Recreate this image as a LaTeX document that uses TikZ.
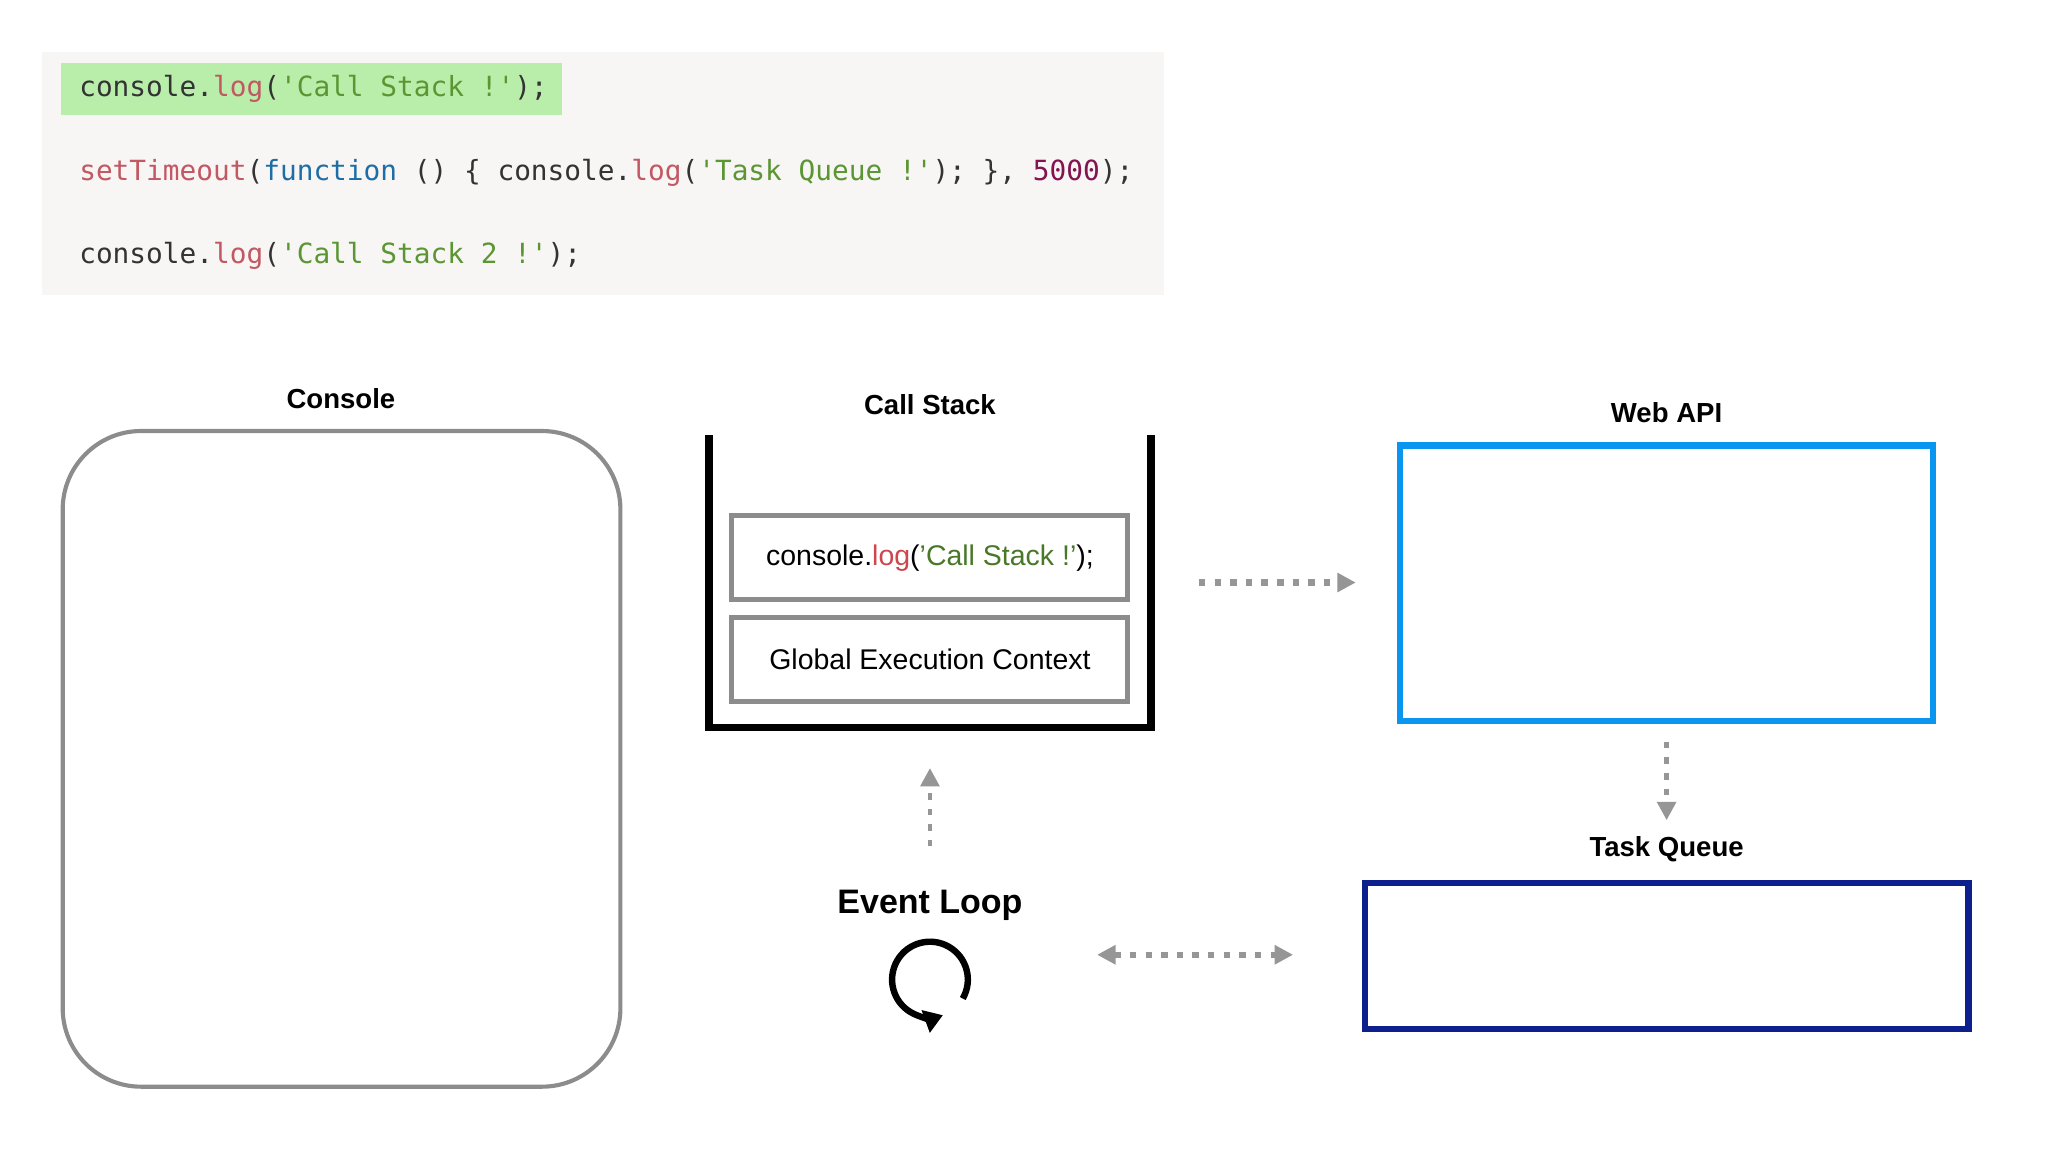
\documentclass[tikz,border=0pt]{standalone}
\usepackage{fontspec}
\setmainfont{Liberation Sans}
\newfontfamily\codefont{DejaVu Sans Mono}
\usetikzlibrary{arrows.meta, positioning}
\definecolor{codebg}{RGB}{248, 245, 245}
\definecolor{hilite}{RGB}{184, 238, 170}
\definecolor{cdark}{RGB}{51, 51, 51}
\definecolor{cfun}{RGB}{193, 88, 98}
\definecolor{cstr}{RGB}{90, 150, 50}
\definecolor{ckey}{RGB}{30, 110, 165}
\definecolor{cnum}{RGB}{130, 20, 80}
\definecolor{boxgray}{RGB}{140, 140, 140}
\definecolor{webblue}{RGB}{10, 150, 240}
\definecolor{navy}{RGB}{13, 31, 140}
\definecolor{dots}{RGB}{150, 150, 150}

\begin{document}
\begin{tikzpicture}[
    x=0.01cm, y=-0.01cm,
    code/.style={anchor=west, inner sep=0, font=\codefont\fontsize{6.05}{7}\selectfont, text=cdark},
    title/.style={font=\bfseries\fontsize{6}{7}\selectfont},
    frame/.style={
        rectangle, draw=boxgray, line width=1.1pt,
        minimum width=3.03cm, minimum height=0.64cm,
        font=\fontsize{6.2}{7}\selectfont
    },
    flow/.style={dots, line width=1.4pt, dotted, -{Triangle[length=4pt, width=4pt]}}
]
    \useasboundingbox (0,0) rectangle (1568,882);
    \fill[white] (0,0) rectangle (1568,882);

    % code sample
    \fill[codebg] (32,40) rectangle (891,226);
    \fill[hilite] (47,48) rectangle (430,88);
    \node[code] (line1) at (60,68) {console.\textcolor{cfun}{log}(\textcolor{cstr}{'Call Stack !'});};
    \node[code] (line2) at (60,132) {\textcolor{cfun}{setTimeout}(\textcolor{ckey}{function} () \{ console.\textcolor{cfun}{log}(\textcolor{cstr}{'Task Queue !'}); \}, \textcolor{cnum}{5000});};
    \node[code] (line3) at (60,196) {console.\textcolor{cfun}{log}(\textcolor{cstr}{'Call Stack 2 !'});};

    % console
    \node[title] (conTitle) at (261,305) {Console};
    \draw[boxgray, line width=0.9pt, rounded corners=0.6cm] (48,330) rectangle (475,832);

    % call stack
    \node[title] (csTitle) at (712,310) {Call Stack};
    \draw[black, line width=1.7pt] (543,333) -- (543,557) -- (881,557) -- (881,333);
    \node[frame] (frameLog) at (712,427) {console.\textcolor{cfun!80!red}{log}(\textcolor{cstr!80!black}{'Call Stack !'});};
    \node[frame] (frameGlobal) at (712,505) {Global Execution Context};

    % web api
    \node[title] (webTitle) at (1276,316) {Web API};
    \node[draw=webblue, line width=1.4pt, minimum width=4.08cm, minimum height=2.11cm] (webapi) at (1276,446.5) {};

    % task queue
    \node[title] (tqTitle) at (1276,650) {Task Queue};
    \node[draw=navy, line width=1.4pt, minimum width=4.62cm, minimum height=1.12cm] (queue) at (1276,732) {};

    % event loop
    \node[font=\bfseries\fontsize{7.4}{9}\selectfont] (elTitle) at (712,693) {Event Loop};
    \coordinate (loop) at (712,750);
    \draw[line width=1.4pt, -{Triangle[length=4pt, width=5pt]}] (loop) ++(30:29) arc[start angle=30, end angle=-290, radius=29];

    % connectors
    \coordinate (a1) at (918,446);
    \coordinate (a2) at (1038,446);
    \draw[flow] (a1) -- (a2);
    \coordinate (b1) at (1276,568);
    \coordinate (b2) at (1276,628);
    \draw[flow, line width=1pt] (b1) -- (b2);
    \coordinate (c1) at (712,648);
    \coordinate (c2) at (712,588);
    \draw[flow, line width=1pt] (c1) -- (c2);
    \coordinate (d1) at (840,731);
    \coordinate (d2) at (990,731);
    \draw[flow, {Triangle[length=4pt, width=4pt]}-{Triangle[length=4pt, width=4pt]}] (d1) -- (d2);
\end{tikzpicture}
\end{document}
